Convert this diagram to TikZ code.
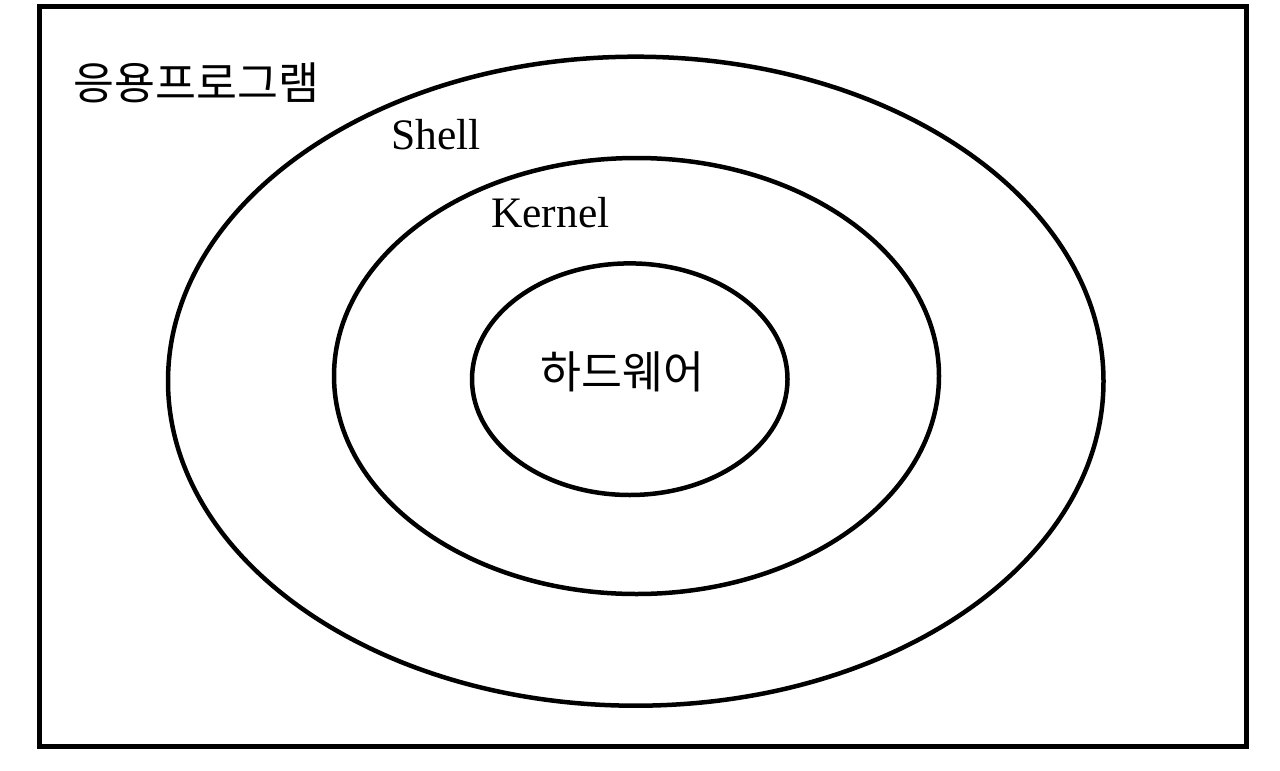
\documentclass[tikz,border=0pt]{standalone}
\usepackage{fontspec}
\setmainfont{Liberation Serif}
\newfontfamily\krfont{Noto Sans CJK KR}
\begin{document}
\begin{tikzpicture}[x=1pt,y=-1pt,
  ring/.style={draw=black,line width=4.5pt},
  frame/.style={draw=black,line width=5pt},
  krlabel/.style={inner sep=0pt,anchor=center,font=\krfont\fontsize{44.5}{52}\selectfont},
  enlabel/.style={inner sep=0pt,anchor=base west,font=\fontsize{43.5}{52}\selectfont}]
\useasboundingbox (0,0) rectangle (1280,771);
\fill[white] (0,0) rectangle (1280,771);
\draw[frame] (39.5,6.7) rectangle (1246.5,746.8);
\draw[ring] (635.75,381.2) ellipse [x radius=467.75, y radius=324.5];
\draw[ring] (636.5,376) ellipse [x radius=302.5, y radius=218];
\draw[ring] (629.75,379.2) ellipse [x radius=157.75, y radius=115.8];
\node[krlabel] (app) at (196.5,83) {응용프로그램};
\node[enlabel] (shell) at (391,149) {Shell};
\node[enlabel] (kernel) at (491,227) {Kernel};
\node[krlabel] (hw) at (622.5,371.5) {하드웨어};
\end{tikzpicture}
\end{document}
